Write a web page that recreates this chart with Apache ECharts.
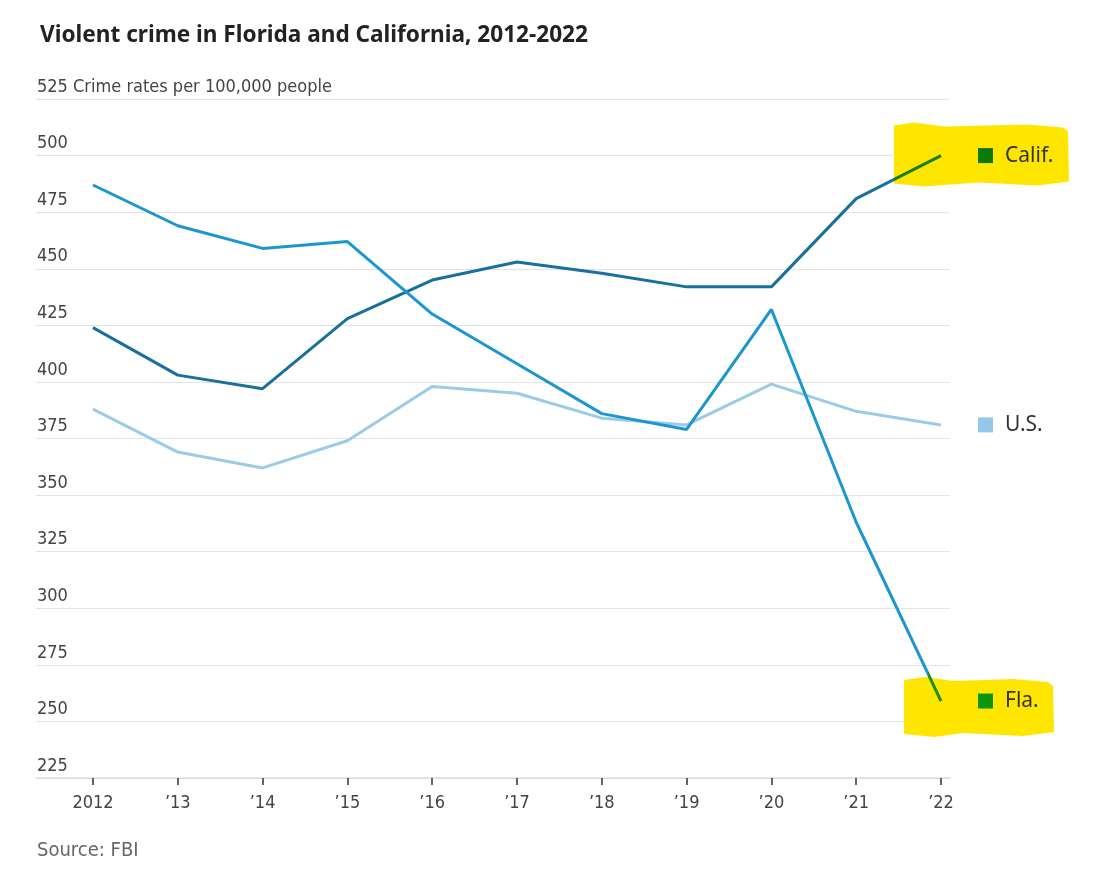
<!DOCTYPE html>
<html>
<head>
<meta charset="utf-8">
<script src="https://cdn.jsdelivr.net/npm/echarts@6/dist/echarts.min.js"></script>
<style>
html,body{margin:0;padding:0;background:#fff;}
#chart{width:1110px;height:887px;}
</style>
</head>
<body>
<div id="chart"></div>
<script>
// data
var years = [2012, 2013, 2014, 2015, 2016, 2017, 2018, 2019, 2020, 2021, 2022];
var yearLabels = ['2012', '\u201913', '\u201914', '\u201915', '\u201916', '\u201917', '\u201918', '\u201919', '\u201920', '\u201921', '\u201922'];
var florida = [487, 469, 459, 462, 430, 408, 386, 379, 432, 338, 259];
var california = [424, 403, 397, 428, 445, 453, 448, 442, 442, 481, 500];
var us = [388, 369, 362, 374, 398, 395, 384, 381, 399, 387, 381];

var narrow = '"DejaVu Sans Condensed","Liberation Sans Narrow",sans-serif';

function pairs(vals) {
    return years.map(function (y, i) { return [y, vals[i]]; });
}

function endLab(name, sq) {
    return {
        show: true,
        distance: 37,
        formatter: '{sq|}{t|' + name + '}',
        rich: {
            sq: {width: 15, height: 15, backgroundColor: sq},
            t: {fontFamily: '"Noto Sans",sans-serif', fontSize: 21, color: '#333', padding: [0, 0, 0, 12]}
        }
    };
}

var chart = echarts.init(document.getElementById('chart'));
var option = {
    animation: false,
    title: {
        text: 'Violent crime in Florida and California, 2012-2022',
        left: 35, top: 19,
        textStyle: {fontFamily: '"Noto Sans",sans-serif', fontWeight: 'bold', fontSize: 22.6, color: '#222'}
    },
    grid: {left: 36, right: 160, top: 99, bottom: 109},
    xAxis: {
        type: 'value',
        min: 2011.328, max: 2022.106,
        axisLine: {show: true, lineStyle: {color: '#ddd', width: 1.5}},
        axisTick: {show: true, customValues: years, length: 7, lineStyle: {color: '#333', width: 1.5}},
        axisLabel: {
            customValues: years, margin: 16,
            fontFamily: narrow, fontSize: 18, color: '#444',
            formatter: function (v) { return yearLabels[years.indexOf(Math.round(v))]; }
        },
        splitLine: {show: false}
    },
    yAxis: {
        type: 'value',
        min: 225, max: 525, interval: 25,
        axisLine: {show: false},
        axisTick: {show: false},
        axisLabel: {
            inside: true, margin: 1, verticalAlign: 'bottom', padding: [0, 0, 3, 0],
            fontFamily: narrow, fontSize: 18, color: '#444',
            formatter: function (v) { return v === 525 ? '525 Crime rates per 100,000 people' : v; }
        },
        splitLine: {lineStyle: {color: '#e3e3e3', width: 1.2}}
    },
    visualMap: [
        {type: 'piecewise', show: false, seriesIndex: 1, dimension: 0,
         pieces: [{min: 2011, max: 2021.46, color: '#18709c'}, {min: 2021.46, max: 2023, color: '#1e7d1e'}]},
        {type: 'piecewise', show: false, seriesIndex: 2, dimension: 0,
         pieces: [{min: 2011, max: 2021.85, color: '#1b96cf'}, {min: 2021.85, max: 2023, color: '#1f8c1f'}]}
    ],
    series: [
        {name: 'U.S.', type: 'line', data: pairs(us), symbol: 'none',
         lineStyle: {color: '#9ccbe8', width: 3}, itemStyle: {color: '#9ccbe8'},
         endLabel: endLab('U.S.', '#93c7ec')},
        {name: 'Calif.', type: 'line', data: pairs(california), symbol: 'none',
         lineStyle: {width: 3}, endLabel: endLab('Calif.', '#0a7a0a')},
        {name: 'Fla.', type: 'line', data: pairs(florida), symbol: 'none',
         lineStyle: {width: 3}, endLabel: endLab('Fla.', '#0c960c')}
    ]
};
chart.setOption(option);

// highlighter swipes behind the Calif. and Fla. end labels
function swipe(val, dx0, dx1, up, down) {
    var p = chart.convertToPixel({gridIndex: 0}, [years[years.length - 1], val]);
    var x0 = p[0] + dx0, x1 = p[0] + dx1, t = p[1] - up, b = p[1] + down;
    return {
        type: 'polygon', z: 1,
        shape: {points: [[x0, t + 2], [x0 + 20, t - 1], [x0 + 50, t + 3], [x1 - 40, t + 1], [x1 - 5, t + 4], [x1, t + 8],
                         [x1 + 1, b - 4], [x1 - 30, b], [x1 - 90, b - 3], [x0 + 30, b + 1], [x0, b - 2]]},
        style: {fill: '#ffe600'}
    };
}
chart.setOption({
    graphic: [
        {type: 'text', left: 37, top: 841,
         style: {text: 'Source: FBI', fontFamily: narrow, fontSize: 20, fill: '#666'}},
        swipe(california[california.length - 1], -47, 127, 32, 30),
        swipe(florida[florida.length - 1], -37, 112, 23, 35)
    ]
});
</script>
</body>
</html>
